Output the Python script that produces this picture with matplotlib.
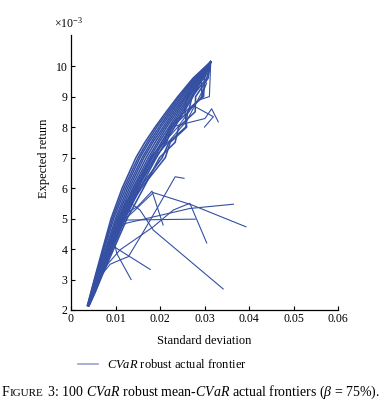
import numpy as np
import matplotlib
matplotlib.use("Agg")
import matplotlib.pyplot as plt

plt.rcParams['font.family'] = ['Liberation Serif', 'DejaVu Serif']
plt.rcParams['mathtext.fontset'] = 'custom'
plt.rcParams['mathtext.rm'] = 'Liberation Serif'
plt.rcParams['mathtext.it'] = 'Liberation Serif:italic'

# expected return levels (x 1e-3) shared by the bulk of the frontiers
ret_grid = [2.15, 2.6, 3.2, 4.0, 5.0, 6.0, 7.0, 7.5, 8.0, 8.5, 9.0, 9.6, 10.14]

# standard deviation (x 1e-3) of each bulk frontier at the return levels above
band_sd = [
    [3.7, 4.5, 5.6, 7.1, 9.0, 11.5, 14.6, 16.6, 18.9, 21.4, 24.0, 27.4, 31.4],
    [3.7, 4.6, 5.7, 7.3, 9.3, 11.9, 15.1, 17.1, 19.3, 21.8, 24.3, 27.6, 31.4],
    [3.8, 4.7, 5.9, 7.5, 9.6, 12.3, 15.5, 17.5, 19.8, 22.2, 24.7, 27.8, 31.4],
    [3.8, 4.8, 6.0, 7.8, 10.0, 12.7, 16.0, 18.0, 20.2, 22.6, 25.0, 28.1, 31.4],
    [3.8, 4.9, 6.2, 8.0, 10.3, 13.1, 16.4, 18.4, 20.7, 23.0, 25.4, 28.3, 31.4],
    [3.9, 5.0, 6.3, 8.2, 10.6, 13.5, 16.9, 18.9, 21.1, 23.4, 25.7, 28.5, 31.4],
    [3.9, 5.0, 6.4, 8.4, 10.9, 13.9, 17.4, 19.4, 21.5, 23.8, 26.0, 28.7, 31.4],
    [3.9, 5.1, 6.6, 8.6, 11.2, 14.3, 17.8, 19.8, 22.0, 24.2, 26.4, 28.9, 31.4],
    [3.9, 5.2, 6.7, 8.9, 11.6, 14.7, 18.3, 20.3, 22.4, 24.6, 26.7, 29.2, 31.4],
    [4.0, 5.3, 6.9, 9.1, 11.9, 15.1, 18.7, 20.7, 22.9, 25.0, 27.1, 29.4, 31.4],
    [4.0, 5.4, 7.0, 9.3, 12.2, 15.5, 19.2, 21.2, 23.3, 25.4, 27.4, 29.6, 31.4],
    [4.0, 5.3, 6.8, 9.0, 11.8, 15.4, 20.5, 22.0, 25.8, 26.2, 29.5, 29.2, 31.4],
    [4.1, 5.5, 7.2, 9.6, 12.6, 16.3, 19.9, 23.4, 24.2, 27.9, 28.0, 30.8, 31.4],
    [3.9, 5.1, 6.6, 8.7, 11.4, 14.8, 19.0, 21.5, 22.6, 26.4, 27.2, 30.5, 31.4],
    [4.0, 5.2, 6.7, 8.8, 11.5, 15.8, 21.2, 22.3, 26.0, 25.6, 29.8, 30.0, 31.4],
    [3.9, 5.1, 6.5, 8.5, 11.0, 14.2, 18.0, 20.9, 22.2, 25.5, 26.1, 29.9, 31.4],
]

# irregular frontiers, each with its own (sd, return) points, x 1e-3
odd_sd = [
    [3.9, 5.1, 6.6, 8.6, 11.3, 14.6, 18.3, 22.5, 30.1, 31.6, 33.1],
    [3.9, 5.0, 6.5, 8.5, 11.1, 14.3, 17.9, 24.0, 27.5, 32.0, 30.0],
    [3.9, 5.2, 6.7, 8.8, 11.5, 14.9, 18.8, 26.0, 30.5, 29.0, 31.1, 31.4],
    [4.0, 4.6, 6.0, 8.8, 11.0, 12.9, 16.0, 20.0, 23.4, 25.4],
    [4.0, 4.8, 6.2, 8.5, 11.0, 18.5, 23.0, 26.7, 30.5],
    [3.9, 4.8, 6.1, 7.8, 10.0, 14.4, 18.5, 27.1, 39.3],
    [3.9, 4.9, 6.3, 8.0, 10.6, 15.0, 18.2, 20.7],
    [3.9, 4.8, 6.2, 7.9, 10.8, 12.5, 26.7, 36.5],
    [3.9, 4.9, 6.4, 8.2, 11.2, 12.1, 27.9],
    [4.0, 5.0, 6.5, 8.5, 10.5, 12.5, 15.5, 18.5, 34.2],
    [3.9, 4.9, 6.3, 7.8, 9.5, 10.3, 13.5],
    [4.0, 5.0, 6.6, 8.6, 10.6, 17.8],
]
odd_ret = [
    [2.15, 2.6, 3.2, 4.0, 5.0, 6.0, 7.0, 8.0, 8.28, 8.6, 8.17],
    [2.15, 2.6, 3.2, 4.0, 5.0, 6.0, 7.0, 8.0, 8.7, 8.34, 8.0],
    [2.15, 2.6, 3.2, 4.0, 5.0, 6.0, 7.0, 8.2, 9.45, 8.9, 9.0, 10.14],
    [2.2, 2.5, 3.0, 3.5, 3.64, 3.75, 4.5, 5.5, 6.37, 6.32],
    [2.2, 2.6, 3.1, 3.55, 3.97, 4.73, 5.28, 5.5, 4.2],
    [2.2, 2.6, 3.2, 3.9, 4.7, 5.28, 5.85, 5.45, 4.73],
    [2.2, 2.7, 3.3, 3.9, 5.0, 5.4, 5.9, 4.79],
    [2.2, 2.6, 3.2, 3.9, 4.7, 4.85, 5.33, 5.47],
    [2.2, 2.7, 3.4, 4.0, 4.8, 4.95, 4.98],
    [2.2, 2.7, 3.3, 4.1, 4.9, 5.6, 5.28, 4.62, 2.69],
    [2.2, 2.8, 3.4, 3.9, 4.35, 3.85, 3.0],
    [2.2, 2.8, 3.5, 4.2, 3.99, 3.33],
]

x_ticks = [0, 0.01, 0.02, 0.03, 0.04, 0.05, 0.06]
x_tick_labels = ['0', '0.01', '0.02', '0.03', '0.04', '0.05', '0.06']
y_ticks = [2, 3, 4, 5, 6, 7, 8, 9, 10]

line_color = '#3550a2'

fig = plt.figure(figsize=(3.92, 4.18), dpi=100)
ax = fig.add_axes([71 / 392, 1 - 310 / 418, 267 / 392, 275 / 418])

for sd in band_sd:
    ax.plot(np.array(sd) * 1e-3, ret_grid, color=line_color, lw=1.15)
for sd, ret in zip(odd_sd, odd_ret):
    ax.plot(np.array(sd) * 1e-3, ret, color=line_color, lw=0.8)

ax.set_xlim(0, 0.06)
ax.set_ylim(2, 11.02)
ax.set_xticks(x_ticks)
ax.set_xticklabels(x_tick_labels)
ax.set_yticks(y_ticks)
ax.tick_params(direction='in', length=3, width=0.8, labelsize=8.5, pad=2.5)
for side in ['top', 'right']:
    ax.spines[side].set_visible(False)
for side in ['left', 'bottom']:
    ax.spines[side].set_linewidth(0.9)

ax.set_xlabel('Standard deviation', fontsize=9)
ax.xaxis.set_label_coords(0.5, -0.09)
ax.set_ylabel('Expected return', fontsize=9)
ax.yaxis.set_label_coords(-0.08, 0.553)
fig.text(54 / 392, 1 - 28 / 418, r'$\times 10^{-3}$', fontsize=8.5, va='baseline')

# legend
ax.plot([], [], color='#9aa4d0', lw=1.2, label=r'$\mathit{CVaR}$ robust actual frontier')
ax.legend(loc='center left', bbox_to_anchor=(72 / 392, 1 - 365 / 418),
          bbox_transform=fig.transFigure, frameon=False, fontsize=9,
          handlelength=1.6, handletextpad=0.7, borderpad=0)

# caption with small caps "Figure"
fig.canvas.draw()
renderer = fig.canvas.get_renderer()
x0 = 2 / 392
ybase = 1 - 396 / 418
pieces = [('F', 10), ('IGURE', 8),
          (r' 3: 100 $\mathit{CVaR}$ robust mean-$\mathit{CVaR}$ actual frontiers ($\beta$ = 75%).', 10)]
for txt, size in pieces:
    t = fig.text(x0, ybase, txt, fontsize=size, va='baseline', ha='left')
    bb = t.get_window_extent(renderer)
    x0 = bb.x1 / fig.bbox.width

fig.savefig('out.png', dpi=100)
